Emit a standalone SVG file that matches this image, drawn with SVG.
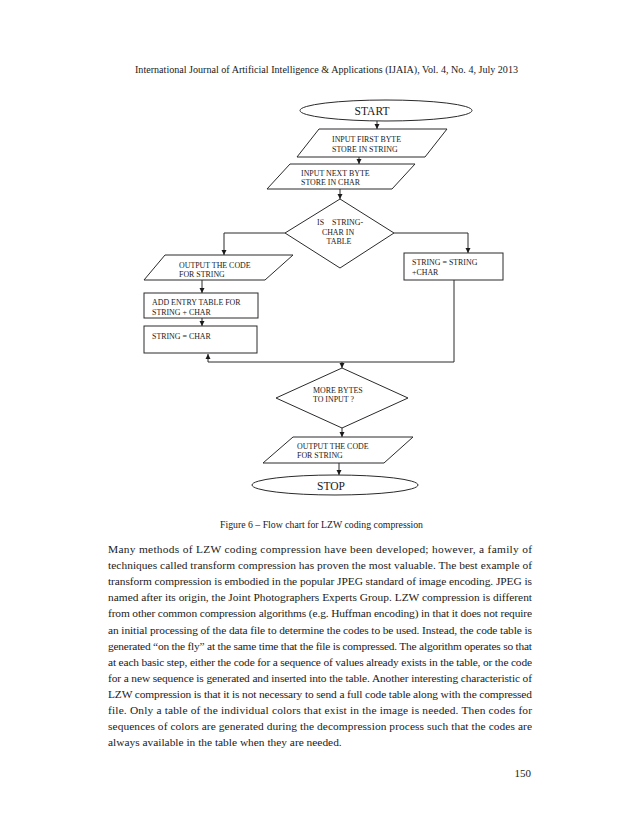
<svg xmlns="http://www.w3.org/2000/svg" width="638" height="826" viewBox="0 0 638 826">
<style>
  .shape { fill: #ffffff; stroke: #2a2a2a; stroke-width: 1; }
  .conn { fill: none; stroke: #2a2a2a; stroke-width: 1; }
  .lbl { font-family: "Liberation Serif", "Times New Roman", serif; font-size: 7.9px; fill: #1a1a1a; }
  .term { font-family: "Liberation Serif", "Times New Roman", serif; font-size: 11.5px; fill: #1a1a1a; text-anchor: middle; }
  .page { font-family: "Liberation Serif", "Times New Roman", serif; fill: #1a1a1a; }
  .body { font-size: 11.4px; }
</style>
<defs>
  <marker id="arr" markerWidth="6" markerHeight="6" refX="5" refY="3" orient="auto" markerUnits="userSpaceOnUse">
    <path d="M0,0.5 L5,3 L0,5.5 Z" fill="#1a1a1a"/>
  </marker>
</defs>
<rect width="638" height="826" fill="#ffffff"/>

<text class="page" x="326.5" y="73" font-size="10" text-anchor="middle" textLength="383" lengthAdjust="spacingAndGlyphs">International Journal of Artificial Intelligence &amp; Applications (IJAIA), Vol. 4, No. 4, July 2013</text>

<g id="connectors">
  <line class="conn" x1="377" y1="120.5" x2="377" y2="129" marker-end="url(#arr)"/>
  <line class="conn" x1="359" y1="157" x2="359" y2="164" marker-end="url(#arr)"/>
  <line class="conn" x1="340" y1="189" x2="340" y2="199" marker-end="url(#arr)"/>
  <polyline class="conn" points="285,233 224,233 224,255" marker-end="url(#arr)"/>
  <polyline class="conn" points="394,233 468,233 468,253" marker-end="url(#arr)"/>
  <line class="conn" x1="202" y1="280" x2="202" y2="293" marker-end="url(#arr)"/>
  <line class="conn" x1="202" y1="318" x2="202" y2="326" marker-end="url(#arr)"/>
  <polyline class="conn" points="454,280 454,362 208,362 208,354" marker-end="url(#arr)"/>
  <line class="conn" x1="342" y1="362" x2="342" y2="368" marker-end="url(#arr)"/>
  <line class="conn" x1="342" y1="428" x2="342" y2="437" marker-end="url(#arr)"/>
  <line class="conn" x1="339" y1="463" x2="339" y2="475" marker-end="url(#arr)"/>
</g>

<g id="start">
  <ellipse class="shape" cx="386" cy="110.5" rx="86" ry="10.5"/>
  <text class="term" x="372" y="114.5">START</text>
</g>

<g id="input-first">
  <polygon class="shape" points="319,129 447,129 425,157 297,157"/>
  <text class="lbl" x="332" y="142">INPUT FIRST BYTE</text>
  <text class="lbl" x="332" y="151.5">STORE IN STRING</text>
</g>

<g id="input-next">
  <polygon class="shape" points="290,164 415,164 392,189 267,189"/>
  <text class="lbl" x="301" y="175.5">INPUT NEXT BYTE</text>
  <text class="lbl" x="301" y="185">STORE IN CHAR</text>
</g>

<g id="decision-in-table">
  <polygon class="shape" points="340,199 394,233 340,268 285,233"/>
  <text class="lbl" y="225"><tspan x="317">IS</tspan><tspan x="332">STRING-</tspan></text>
  <text class="lbl" x="338" y="234.5" text-anchor="middle">CHAR IN</text>
  <text class="lbl" x="339" y="244" text-anchor="middle">TABLE</text>
</g>

<g id="output-code-1">
  <polygon class="shape" points="165,255 293,255 265,280 144,280"/>
  <text class="lbl" x="179" y="267.5">OUTPUT THE CODE</text>
  <text class="lbl" x="179" y="277">FOR STRING</text>
</g>

<g id="string-plus-char">
  <rect class="shape" x="404" y="253" width="99" height="27"/>
  <text class="lbl" x="412" y="265">STRING = STRING</text>
  <text class="lbl" x="412" y="274.5">+CHAR</text>
</g>

<g id="add-entry">
  <rect class="shape" x="144" y="293" width="114" height="25"/>
  <text class="lbl" x="152" y="305">ADD ENTRY TABLE FOR</text>
  <text class="lbl" x="152" y="314.5">STRING + CHAR</text>
</g>

<g id="string-eq-char">
  <rect class="shape" x="144" y="326" width="113" height="27"/>
  <text class="lbl" x="152" y="339">STRING = CHAR</text>
</g>

<g id="decision-more">
  <polygon class="shape" points="342,368 408,398 342,428 276,398"/>
  <text class="lbl" x="313" y="392.5">MORE BYTES</text>
  <text class="lbl" x="313" y="402">TO INPUT ?</text>
</g>

<g id="output-code-2">
  <polygon class="shape" points="293,437 413,437 384,463 263,463"/>
  <text class="lbl" x="297" y="448.5">OUTPUT THE CODE</text>
  <text class="lbl" x="297" y="458">FOR STRING</text>
</g>

<g id="stop">
  <ellipse class="shape" cx="335" cy="485" rx="83" ry="10"/>
  <text class="term" x="331" y="489.5">STOP</text>
</g>

<text class="page" x="220" y="528" font-size="10" textLength="203" lengthAdjust="spacingAndGlyphs">Figure 6 – Flow chart for LZW coding compression</text>

<g class="page body">
  <text x="108" y="553" textLength="424" lengthAdjust="spacing">Many methods of LZW coding compression have been developed; however, a family of</text>
  <text x="108" y="569.1" textLength="424" lengthAdjust="spacing">techniques called transform compression has proven the most valuable. The best example of</text>
  <text x="108" y="585.2" textLength="424" lengthAdjust="spacing">transform compression is embodied in the popular JPEG standard of image encoding. JPEG is</text>
  <text x="108" y="601.3" textLength="424" lengthAdjust="spacing">named after its origin, the Joint Photographers Experts Group. LZW compression is different</text>
  <text x="108" y="617.4" textLength="424" lengthAdjust="spacing">from other common compression algorithms (e.g. Huffman encoding) in that it does not require</text>
  <text x="108" y="633.5" textLength="424" lengthAdjust="spacing">an initial processing of the data file to determine the codes to be used.  Instead, the code table is</text>
  <text x="108" y="649.6" textLength="424" lengthAdjust="spacing">generated “on the fly” at the same time that the file is compressed.  The algorithm operates so that</text>
  <text x="108" y="665.7" textLength="424" lengthAdjust="spacing">at each basic step, either the code for a sequence of values already exists in the table, or the code</text>
  <text x="108" y="681.8" textLength="424" lengthAdjust="spacing">for a new sequence is generated and inserted into the table.  Another interesting characteristic of</text>
  <text x="108" y="697.9" textLength="424" lengthAdjust="spacing">LZW compression is that it is not necessary to send a full code table along with the compressed</text>
  <text x="108" y="714" textLength="424" lengthAdjust="spacing">file.  Only a table of the individual colors that exist in the image is needed.  Then codes for</text>
  <text x="108" y="730.1" textLength="424" lengthAdjust="spacing">sequences of colors are generated during the decompression process such that the codes are</text>
  <text x="108" y="746.2">always available in the table when they are needed.</text>
</g>

<text class="page" x="531" y="777" font-size="11" text-anchor="end">150</text>
</svg>
